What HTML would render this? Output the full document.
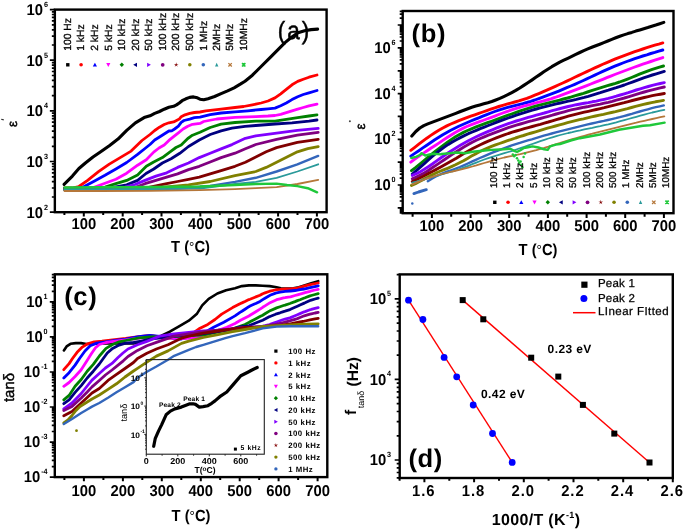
<!DOCTYPE html>
<html><head><meta charset="utf-8"><style>
html,body{margin:0;padding:0;background:#fff;width:685px;height:529px;overflow:hidden}
svg{display:block;will-change:transform}
text{font-family:"Liberation Sans", sans-serif;fill:#000;text-rendering:geometricPrecision}
</style></head><body>
<svg width="685" height="529" viewBox="0 0 685 529">
<polyline points="64.1,184.3 72.4,176.1 78.9,168.5 85.4,163.0 93.0,157.0 100.7,151.7 109.3,145.7 118.0,139.1 126.7,130.4 135.4,122.8 144.1,117.6 150.0,115.8 154.7,113.4 159.5,111.5 164.2,109.2 168.9,107.3 173.6,106.3 176.5,104.9 179.3,103.0 182.1,100.7 185.9,98.8 189.7,97.4 193.5,96.9 197.3,97.8 200.0,99.2 203.7,99.8 208.0,98.7 214.6,96.5 221.1,93.7 227.6,90.9 234.1,87.8 240.7,83.9 245.0,81.2 252.4,75.2 261.1,66.5 269.8,57.8 278.5,49.1 285.0,42.6 291.5,37.2 298.0,32.8 304.6,30.7 311.1,29.6 317.6,29.1" fill="none" stroke="#000000" stroke-width="3.1" stroke-linejoin="round" stroke-linecap="round"/>
<polyline points="64.5,188.0 72.0,188.0 78.9,186.5 87.6,180.4 98.5,171.7 109.3,164.1 120.2,157.6 131.1,151.1 142.0,140.5 146.0,137.5 150.0,134.5 154.7,130.5 159.5,127.2 164.2,124.5 168.9,122.8 173.6,121.9 176.5,120.5 179.3,119.1 181.2,116.7 185.0,114.8 189.7,113.4 194.4,112.5 200.0,112.0 205.9,110.9 221.1,109.1 235.0,107.5 243.7,106.5 252.4,104.8 261.1,103.0 268.0,101.0 275.0,97.9 280.7,93.9 286.3,89.4 292.0,84.8 297.7,81.4 303.3,79.2 309.0,77.2 317.0,75.0" fill="none" stroke="#ff0000" stroke-width="2.8" stroke-linejoin="round" stroke-linecap="round"/>
<polyline points="64.5,188.5 76.0,188.5 83.3,187.0 94.1,181.2 105.0,175.3 115.9,169.0 126.7,162.5 137.6,154.4 145.0,148.5 150.0,144.5 154.7,140.0 159.5,137.0 164.2,134.0 168.9,131.0 171.7,130.9 174.6,129.0 178.4,126.2 181.2,122.4 184.0,120.5 189.7,119.1 194.4,117.7 200.0,117.2 210.2,114.6 221.1,113.0 235.0,111.9 248.0,110.8 261.1,109.5 268.0,108.8 275.0,108.1 280.7,105.8 286.3,103.0 292.0,99.6 297.7,96.7 303.3,94.5 309.0,92.8 317.0,90.5" fill="none" stroke="#0000ff" stroke-width="2.8" stroke-linejoin="round" stroke-linecap="round"/>
<polyline points="64.5,188.5 86.0,188.5 94.1,187.4 105.0,183.2 115.9,179.3 126.7,173.2 137.6,165.2 146.3,159.8 153.7,152.1 159.0,148.0 164.2,145.0 168.9,140.4 173.6,136.6 178.4,132.8 183.1,129.0 187.8,126.2 192.5,124.3 200.0,123.4 203.7,121.5 216.7,119.0 235.0,117.4 255.8,116.6 268.0,116.0 275.0,115.5 280.7,114.3 286.3,112.6 292.0,110.9 297.7,109.2 303.3,107.5 309.0,105.8 317.0,104.1" fill="none" stroke="#ff00ff" stroke-width="2.8" stroke-linejoin="round" stroke-linecap="round"/>
<polyline points="64.5,188.5 98.0,188.5 105.0,187.0 115.9,183.7 126.7,180.4 137.6,175.0 146.3,166.3 153.7,162.0 162.4,157.6 171.1,151.1 176.0,147.5 181.2,145.0 187.8,138.5 192.5,135.2 200.0,132.3 210.2,127.5 221.1,124.2 235.0,122.5 255.8,121.2 275.0,121.1 286.3,119.4 297.7,117.7 309.0,116.0 317.0,114.9" fill="none" stroke="#008000" stroke-width="2.8" stroke-linejoin="round" stroke-linecap="round"/>
<polyline points="64.5,188.5 108.0,188.5 115.9,187.0 126.7,184.8 137.6,180.4 146.0,173.5 153.8,169.0 162.4,163.0 171.1,158.7 179.8,153.3 188.5,146.5 199.3,140.0 210.2,134.5 221.1,130.8 232.0,128.2 245.0,126.3 255.8,125.5 275.0,124.0 292.0,122.8 309.0,121.1 317.0,120.0" fill="none" stroke="#000080" stroke-width="2.8" stroke-linejoin="round" stroke-linecap="round"/>
<polyline points="64.5,189.0 115.0,189.0 125.0,187.0 135.0,184.5 145.0,180.4 155.9,176.1 166.7,172.8 177.6,167.4 188.5,163.0 199.3,157.6 210.2,153.3 221.1,148.9 232.0,144.6 245.4,138.3 255.8,135.8 276.6,133.1 297.4,130.4 318.2,128.3" fill="none" stroke="#8000ff" stroke-width="2.8" stroke-linejoin="round" stroke-linecap="round"/>
<polyline points="64.5,189.0 125.0,189.0 135.0,187.5 145.0,183.7 155.9,180.4 166.7,177.2 177.6,173.9 188.5,169.6 199.3,166.3 210.2,162.0 221.1,157.6 235.0,153.2 245.4,148.7 255.8,144.5 276.6,139.3 297.4,135.1 318.2,132.4" fill="none" stroke="#800080" stroke-width="2.8" stroke-linejoin="round" stroke-linecap="round"/>
<polyline points="64.5,189.5 135.0,189.5 145.0,188.0 155.9,185.9 166.7,183.7 177.6,181.5 188.5,179.3 199.3,177.2 210.2,173.9 221.1,170.7 235.0,166.3 245.4,162.2 255.8,157.0 266.2,151.8 276.6,147.6 297.4,142.4 318.2,139.3" fill="none" stroke="#800000" stroke-width="2.8" stroke-linejoin="round" stroke-linecap="round"/>
<polyline points="64.5,189.5 150.0,188.5 166.7,187.0 188.5,184.8 210.2,181.5 235.0,175.7 255.8,171.5 266.2,167.4 276.6,162.2 287.0,157.0 297.4,151.8 307.8,148.7 318.2,146.6" fill="none" stroke="#808000" stroke-width="2.8" stroke-linejoin="round" stroke-linecap="round"/>
<polyline points="64.5,189.5 180.0,188.5 210.2,185.9 235.0,181.9 255.8,177.8 276.6,171.5 297.4,164.3 318.2,155.9" fill="none" stroke="#3366bb" stroke-width="2.4" stroke-linejoin="round" stroke-linecap="round"/>
<polyline points="64.5,190.0 200.0,188.5 235.0,184.0 255.8,181.9 276.6,177.8 297.4,171.5 318.2,164.3" fill="none" stroke="#2a9a9a" stroke-width="1.8" stroke-linejoin="round" stroke-linecap="round"/>
<polyline points="64.5,191.0 100.0,191.0 150.0,190.8 200.0,190.2 235.0,189.2 255.8,188.2 276.6,187.1 297.4,184.0 318.2,179.8" fill="none" stroke="#b5773a" stroke-width="1.8" stroke-linejoin="round" stroke-linecap="round"/>
<polyline points="64.5,187.5 100.0,187.3 150.0,187.0 200.0,186.5 235.0,185.0 255.8,184.0 276.6,183.6 287.0,185.0 297.4,186.1 307.8,188.2 317.1,192.3" fill="none" stroke="#1fc83a" stroke-width="2.4" stroke-linejoin="round" stroke-linecap="round"/>
<text transform="translate(71.00,50.80) rotate(-90)" font-size="10.35" stroke="#000" stroke-width="0.3">100 Hz</text>
<rect x="66.10" y="63.10" width="3.4" height="3.4" fill="#000000"/>
<text transform="translate(84.30,50.80) rotate(-90)" font-size="10.35" stroke="#000" stroke-width="0.3">1 kHz</text>
<circle cx="81.10" cy="64.80" r="1.78" fill="#ff0000"/>
<text transform="translate(98.10,50.80) rotate(-90)" font-size="10.35" stroke="#000" stroke-width="0.3">2 kHz</text>
<path d="M94.90,62.70L97.00,66.50L92.80,66.50Z" fill="#0000ff"/>
<text transform="translate(111.50,50.80) rotate(-90)" font-size="10.35" stroke="#000" stroke-width="0.3">5 kHz</text>
<path d="M108.30,66.90L110.40,63.10L106.20,63.10Z" fill="#ff00ff"/>
<text transform="translate(125.00,50.80) rotate(-90)" font-size="10.35" stroke="#000" stroke-width="0.3">10 kHz</text>
<path d="M121.80,62.60L124.00,64.80L121.80,67.00L119.60,64.80Z" fill="#008000"/>
<text transform="translate(138.50,50.80) rotate(-90)" font-size="10.35" stroke="#000" stroke-width="0.3">20 kHz</text>
<path d="M133.20,64.80L137.00,62.70L137.00,66.90Z" fill="#000080"/>
<text transform="translate(152.00,50.80) rotate(-90)" font-size="10.35" stroke="#000" stroke-width="0.3">50 kHz</text>
<path d="M150.90,64.80L147.10,62.70L147.10,66.90Z" fill="#8000ff"/>
<text transform="translate(165.90,50.80) rotate(-90)" font-size="10.35" stroke="#000" stroke-width="0.3">100 kHz</text>
<circle cx="162.70" cy="64.80" r="1.87" fill="#800080"/>
<text transform="translate(179.40,50.80) rotate(-90)" font-size="10.35" stroke="#000" stroke-width="0.3">200 kHz</text>
<polygon points="176.20,62.30 176.65,64.18 178.58,64.03 176.93,65.04 177.67,66.82 176.20,65.56 174.73,66.82 175.47,65.04 173.82,64.03 175.75,64.18" fill="#800000"/>
<text transform="translate(193.00,50.80) rotate(-90)" font-size="10.35" stroke="#000" stroke-width="0.3">500 kHz</text>
<circle cx="189.80" cy="64.80" r="1.78" fill="#808000"/>
<text transform="translate(206.50,50.80) rotate(-90)" font-size="10.35" stroke="#000" stroke-width="0.3">1 MHz</text>
<circle cx="203.30" cy="64.80" r="1.78" fill="#3366bb"/>
<text transform="translate(219.90,50.80) rotate(-90)" font-size="10.35" stroke="#000" stroke-width="0.3">2MHz</text>
<path d="M216.70,62.80L218.40,66.50L215.00,66.50Z" fill="#2a9a9a"/>
<text transform="translate(233.30,50.80) rotate(-90)" font-size="10.35" stroke="#000" stroke-width="0.3">5MHz</text>
<path d="M228.40,63.10L231.80,66.50M231.80,63.10L228.40,66.50" stroke="#b5773a" stroke-width="1.3"/>
<text transform="translate(246.90,50.80) rotate(-90)" font-size="10.35" stroke="#000" stroke-width="0.3">10MHz</text>
<path d="M242.00,63.10L245.40,66.50M245.40,63.10L242.00,66.50M243.70,63.10V66.50" stroke="#1fc83a" stroke-width="1.5"/>
<polyline points="411.8,136.1 415.8,131.5 419.8,128.0 423.8,125.6 427.8,123.9 431.8,122.4 435.8,120.9 439.8,119.4 443.8,117.9 447.8,116.4 451.8,114.9 455.8,113.4 459.8,111.8 463.8,110.2 467.8,108.7 471.8,107.3 475.8,106.1 479.8,104.9 483.8,103.8 487.8,102.7 491.8,101.5 495.8,100.0 499.8,98.4 503.8,96.6 507.8,94.7 511.8,92.6 515.8,90.4 519.8,88.0 523.8,85.4 527.8,82.8 531.8,80.1 535.8,77.3 539.8,74.6 543.8,71.8 547.8,69.2 551.8,66.7 555.8,64.4 559.8,62.2 563.8,60.2 567.8,58.3 571.8,56.4 575.8,54.4 579.8,52.5 583.8,50.6 587.8,48.9 591.8,47.3 595.8,45.7 599.8,44.2 603.8,42.6 607.8,41.0 611.8,39.4 615.8,37.8 619.8,36.3 623.8,34.9 627.8,33.6 631.8,32.4 635.8,31.1 639.8,29.9 643.8,28.7 647.8,27.5 651.8,26.2 655.8,25.0 659.8,23.7 663.8,22.4 663.8,22.4" fill="none" stroke="#000000" stroke-width="3.1" stroke-linejoin="round" stroke-linecap="round"/>
<polyline points="410.8,150.3 414.8,147.3 418.8,144.2 422.8,141.2 426.8,138.2 430.8,135.4 434.8,132.8 438.8,130.3 442.8,128.0 446.8,125.9 450.8,124.0 454.8,122.3 458.8,120.6 462.8,119.1 466.8,117.6 470.8,116.2 474.8,114.8 478.8,113.4 482.8,112.0 486.8,110.6 490.8,109.2 494.8,107.8 498.8,106.5 502.8,105.3 506.8,104.2 510.8,103.1 514.8,102.0 518.8,100.9 522.8,99.6 526.8,98.3 530.8,96.8 534.8,95.2 538.8,93.6 542.8,91.9 546.8,90.1 550.8,88.4 554.8,86.6 558.8,84.8 562.8,83.0 566.8,81.1 570.8,79.2 574.8,77.3 578.8,75.4 582.8,73.5 586.8,71.6 590.8,69.7 594.8,67.9 598.8,66.1 602.8,64.3 606.8,62.6 610.8,60.9 614.8,59.2 618.8,57.6 622.8,56.1 626.8,54.6 630.8,53.1 634.8,51.7 638.8,50.3 642.8,49.0 646.8,47.7 650.8,46.4 654.8,45.2 658.8,44.1 662.8,42.9 662.8,42.9" fill="none" stroke="#ff0000" stroke-width="2.9" stroke-linejoin="round" stroke-linecap="round"/>
<polyline points="410.8,156.1 414.8,153.4 418.8,150.7 422.8,147.9 426.8,145.2 430.8,142.5 434.8,139.8 438.8,137.3 442.8,134.8 446.8,132.5 450.8,130.3 454.8,128.3 458.8,126.3 462.8,124.5 466.8,122.7 470.8,121.0 474.8,119.4 478.8,117.8 482.8,116.2 486.8,114.6 490.8,113.0 494.8,111.5 498.8,110.1 502.8,108.8 506.8,107.6 510.8,106.6 514.8,105.6 518.8,104.6 522.8,103.6 526.8,102.5 530.8,101.3 534.8,100.0 538.8,98.6 542.8,97.2 546.8,95.7 550.8,94.2 554.8,92.7 558.8,91.1 562.8,89.4 566.8,87.7 570.8,86.0 574.8,84.3 578.8,82.5 582.8,80.7 586.8,78.9 590.8,77.0 594.8,75.1 598.8,73.3 602.8,71.4 606.8,69.6 610.8,67.9 614.8,66.2 618.8,64.6 622.8,63.0 626.8,61.5 630.8,60.1 634.8,58.7 638.8,57.3 642.8,56.0 646.8,54.8 650.8,53.5 654.8,52.4 658.8,51.2 662.8,50.0 662.8,50.0" fill="none" stroke="#0000ff" stroke-width="2.9" stroke-linejoin="round" stroke-linecap="round"/>
<polyline points="410.8,162.1 414.8,159.2 418.8,156.4 422.8,153.6 426.8,151.0 430.8,148.3 434.8,145.7 438.8,143.1 442.8,140.4 446.8,137.8 450.8,135.2 454.8,132.7 458.8,130.5 462.8,128.4 466.8,126.5 470.8,124.9 474.8,123.4 478.8,121.9 482.8,120.5 486.8,119.0 490.8,117.6 494.8,116.1 498.8,114.5 502.8,113.0 506.8,111.6 510.8,110.2 514.8,108.9 518.8,107.6 522.8,106.4 526.8,105.3 530.8,104.3 534.8,103.2 538.8,102.2 542.8,101.1 546.8,100.0 550.8,98.8 554.8,97.5 558.8,96.1 562.8,94.7 566.8,93.2 570.8,91.7 574.8,90.2 578.8,88.7 582.8,87.1 586.8,85.6 590.8,84.0 594.8,82.4 598.8,80.8 602.8,79.3 606.8,77.7 610.8,76.1 614.8,74.5 618.8,73.0 622.8,71.5 626.8,70.0 630.8,68.5 634.8,67.0 638.8,65.6 642.8,64.2 646.8,62.8 650.8,61.5 654.8,60.2 658.8,58.9 662.8,57.6 662.8,57.6" fill="none" stroke="#ff00ff" stroke-width="2.9" stroke-linejoin="round" stroke-linecap="round"/>
<polyline points="411.5,170.7 415.5,167.6 419.5,164.3 423.5,161.0 427.5,157.7 431.5,154.5 435.5,151.2 439.5,148.1 443.5,145.1 447.5,142.2 451.5,139.4 455.5,136.8 459.5,134.5 463.5,132.4 467.5,130.5 471.5,128.8 475.5,127.2 479.5,125.7 483.5,124.2 487.5,122.7 491.5,121.3 495.5,119.8 499.5,118.3 503.5,116.8 507.5,115.4 511.5,114.0 515.5,112.6 519.5,111.2 523.5,109.9 527.5,108.6 531.5,107.4 535.5,106.2 539.5,105.1 543.5,104.1 547.5,103.1 551.5,102.1 555.5,101.1 559.5,100.1 563.5,99.0 567.5,98.0 571.5,96.9 575.5,95.7 579.5,94.5 583.5,93.3 587.5,92.0 591.5,90.7 595.5,89.4 599.5,88.1 603.5,86.9 607.5,85.7 611.5,84.5 615.5,83.3 619.5,82.0 623.5,80.6 627.5,79.1 631.5,77.5 635.5,75.9 639.5,74.2 643.5,72.6 647.5,71.1 651.5,69.7 655.5,68.4 659.5,67.1 663.5,66.0 663.5,66.0" fill="none" stroke="#008000" stroke-width="2.9" stroke-linejoin="round" stroke-linecap="round"/>
<polyline points="412.3,174.0 416.3,170.6 420.3,167.1 424.3,163.6 428.3,160.0 432.3,156.5 436.3,153.2 440.3,150.0 444.3,147.1 448.3,144.4 452.3,142.0 456.3,139.7 460.3,137.6 464.3,135.6 468.3,133.7 472.3,132.0 476.3,130.3 480.3,128.6 484.3,127.1 488.3,125.5 492.3,124.0 496.3,122.4 500.3,120.9 504.3,119.4 508.3,118.0 512.3,116.6 516.3,115.2 520.3,113.8 524.3,112.6 528.3,111.3 532.3,110.1 536.3,109.0 540.3,107.9 544.3,106.9 548.3,105.8 552.3,104.9 556.3,103.9 560.3,103.0 564.3,102.1 568.3,101.2 572.3,100.3 576.3,99.4 580.3,98.4 584.3,97.4 588.3,96.3 592.3,95.1 596.3,93.9 600.3,92.7 604.3,91.4 608.3,90.2 612.3,88.9 616.3,87.7 620.3,86.3 624.3,85.0 628.3,83.5 632.3,82.1 636.3,80.6 640.3,79.1 644.3,77.7 648.3,76.3 652.3,75.0 656.3,73.8 660.3,72.6 664.3,71.4 664.3,71.4" fill="none" stroke="#000080" stroke-width="2.9" stroke-linejoin="round" stroke-linecap="round"/>
<polyline points="412.3,175.4 416.3,173.7 420.3,171.7 424.3,169.3 428.3,166.7 432.3,164.0 436.3,161.1 440.3,158.3 444.3,155.5 448.3,152.8 452.3,150.2 456.3,147.7 460.3,145.3 464.3,142.9 468.3,140.7 472.3,138.7 476.3,136.7 480.3,134.9 484.3,133.1 488.3,131.4 492.3,129.8 496.3,128.2 500.3,126.6 504.3,125.1 508.3,123.7 512.3,122.3 516.3,121.0 520.3,119.8 524.3,118.6 528.3,117.4 532.3,116.3 536.3,115.2 540.3,114.1 544.3,113.0 548.3,111.8 552.3,110.7 556.3,109.6 560.3,108.5 564.3,107.5 568.3,106.5 572.3,105.6 576.3,104.7 580.3,104.0 584.3,103.3 588.3,102.6 592.3,101.8 596.3,101.1 600.3,100.2 604.3,99.3 608.3,98.4 612.3,97.3 616.3,96.2 620.3,95.0 624.3,93.8 628.3,92.6 632.3,91.3 636.3,90.0 640.3,88.8 644.3,87.6 648.3,86.5 652.3,85.4 656.3,84.4 660.3,83.5 664.3,82.6 664.3,82.6" fill="none" stroke="#8000ff" stroke-width="2.9" stroke-linejoin="round" stroke-linecap="round"/>
<polyline points="412.3,178.8 416.3,177.1 420.3,175.1 424.3,172.9 428.3,170.4 432.3,167.8 436.3,165.1 440.3,162.4 444.3,159.7 448.3,157.0 452.3,154.4 456.3,151.8 460.3,149.2 464.3,146.7 468.3,144.4 472.3,142.3 476.3,140.3 480.3,138.5 484.3,136.8 488.3,135.2 492.3,133.6 496.3,132.1 500.3,130.6 504.3,129.1 508.3,127.7 512.3,126.4 516.3,125.2 520.3,124.0 524.3,122.8 528.3,121.7 532.3,120.7 536.3,119.6 540.3,118.5 544.3,117.4 548.3,116.3 552.3,115.2 556.3,114.0 560.3,112.9 564.3,111.8 568.3,110.7 572.3,109.7 576.3,108.8 580.3,108.0 584.3,107.2 588.3,106.5 592.3,105.7 596.3,104.9 600.3,104.1 604.3,103.2 608.3,102.3 612.3,101.3 616.3,100.2 620.3,99.1 624.3,98.0 628.3,96.8 632.3,95.6 636.3,94.4 640.3,93.2 644.3,92.0 648.3,90.9 652.3,89.9 656.3,88.9 660.3,87.9 664.3,87.0 664.3,87.0" fill="none" stroke="#800080" stroke-width="2.9" stroke-linejoin="round" stroke-linecap="round"/>
<polyline points="412.3,181.5 416.3,179.7 420.3,177.8 424.3,175.7 428.3,173.6 432.3,171.5 436.3,169.4 440.3,167.2 444.3,165.0 448.3,162.8 452.3,160.5 456.3,158.2 460.3,155.7 464.3,153.3 468.3,151.0 472.3,148.8 476.3,146.7 480.3,144.7 484.3,142.9 488.3,141.2 492.3,139.5 496.3,137.9 500.3,136.4 504.3,134.9 508.3,133.5 512.3,132.2 516.3,131.0 520.3,129.8 524.3,128.7 528.3,127.6 532.3,126.5 536.3,125.4 540.3,124.3 544.3,123.1 548.3,122.0 552.3,120.8 556.3,119.6 560.3,118.5 564.3,117.3 568.3,116.2 572.3,115.1 576.3,114.1 580.3,113.1 584.3,112.2 588.3,111.3 592.3,110.4 596.3,109.5 600.3,108.6 604.3,107.7 608.3,106.7 612.3,105.7 616.3,104.7 620.3,103.7 624.3,102.7 628.3,101.6 632.3,100.5 636.3,99.5 640.3,98.5 644.3,97.5 648.3,96.6 652.3,95.7 656.3,94.9 660.3,94.2 664.3,93.5 664.3,93.5" fill="none" stroke="#800000" stroke-width="2.9" stroke-linejoin="round" stroke-linecap="round"/>
<polyline points="411.5,185.4 415.5,183.6 419.5,181.5 423.5,179.4 427.5,177.2 431.5,175.1 435.5,173.2 439.5,171.5 443.5,169.9 447.5,168.3 451.5,166.6 455.5,164.8 459.5,162.8 463.5,160.7 467.5,158.4 471.5,156.1 475.5,153.9 479.5,151.8 483.5,149.9 487.5,148.1 491.5,146.4 495.5,144.9 499.5,143.5 503.5,142.1 507.5,140.7 511.5,139.4 515.5,138.0 519.5,136.7 523.5,135.5 527.5,134.2 531.5,133.0 535.5,131.8 539.5,130.6 543.5,129.4 547.5,128.2 551.5,127.1 555.5,126.0 559.5,124.9 563.5,123.8 567.5,122.7 571.5,121.7 575.5,120.7 579.5,119.7 583.5,118.8 587.5,117.8 591.5,116.9 595.5,116.0 599.5,115.1 603.5,114.3 607.5,113.4 611.5,112.5 615.5,111.6 619.5,110.6 623.5,109.6 627.5,108.6 631.5,107.5 635.5,106.4 639.5,105.4 643.5,104.4 647.5,103.5 651.5,102.6 655.5,101.8 659.5,101.1 663.5,100.4 663.5,100.4" fill="none" stroke="#808000" stroke-width="2.9" stroke-linejoin="round" stroke-linecap="round"/>
<polyline points="427.8,181.2 431.8,178.7 435.8,176.5 439.8,174.6 443.8,172.9 447.8,171.5 451.8,170.0 455.8,168.5 459.8,167.0 463.8,165.3 467.8,163.5 471.8,161.6 475.8,159.8 479.8,158.0 483.8,156.3 487.8,154.6 491.8,152.9 495.8,151.3 499.8,149.8 503.8,148.3 507.8,146.8 511.8,145.4 515.8,144.1 519.8,142.9 523.8,141.6 527.8,140.4 531.8,139.3 535.8,138.1 539.8,136.9 543.8,135.7 547.8,134.6 551.8,133.5 555.8,132.4 559.8,131.3 563.8,130.3 567.8,129.3 571.8,128.3 575.8,127.3 579.8,126.3 583.8,125.3 587.8,124.4 591.8,123.5 595.8,122.6 599.8,121.7 603.8,120.9 607.8,120.0 611.8,119.1 615.8,118.2 619.8,117.2 623.8,116.1 627.8,115.0 631.8,113.9 635.8,112.7 639.8,111.5 643.8,110.4 647.8,109.3 651.8,108.2 655.8,107.2 659.8,106.3 663.8,105.4 663.8,105.4" fill="none" stroke="#3366bb" stroke-width="2.4" stroke-linejoin="round" stroke-linecap="round"/>
<polyline points="412.3,182.6 416.3,181.6 420.3,180.5 424.3,179.4 428.3,178.2 432.3,177.0 436.3,175.9 440.3,174.7 444.3,173.6 448.3,172.5 452.3,171.4 456.3,170.2 460.3,168.8 464.3,167.4 468.3,165.8 472.3,164.2 476.3,162.6 480.3,161.0 484.3,159.5 488.3,158.1 492.3,156.8 496.3,155.6 500.3,154.4 504.3,153.2 508.3,152.0 512.3,150.8 516.3,149.5 520.3,148.2 524.3,146.8 528.3,145.4 532.3,144.0 536.3,142.6 540.3,141.2 544.3,139.8 548.3,138.5 552.3,137.3 556.3,136.1 560.3,135.0 564.3,134.0 568.3,133.0 572.3,132.1 576.3,131.1 580.3,130.3 584.3,129.4 588.3,128.6 592.3,127.8 596.3,126.9 600.3,126.1 604.3,125.2 608.3,124.3 612.3,123.3 616.3,122.3 620.3,121.2 624.3,120.1 628.3,119.0 632.3,117.9 636.3,116.8 640.3,115.7 644.3,114.6 648.3,113.5 652.3,112.5 656.3,111.6 660.3,110.7 664.3,109.8 664.3,109.8" fill="none" stroke="#2a9a9a" stroke-width="1.8" stroke-linejoin="round" stroke-linecap="round"/>
<polyline points="412.3,184.4 416.3,182.7 420.3,181.0 424.3,179.5 428.3,178.1 432.3,176.8 436.3,175.6 440.3,174.5 444.3,173.5 448.3,172.5 452.3,171.5 456.3,170.6 460.3,169.6 464.3,168.6 468.3,167.6 472.3,166.5 476.3,165.4 480.3,164.2 484.3,163.0 488.3,161.8 492.3,160.6 496.3,159.5 500.3,158.5 504.3,157.5 508.3,156.6 512.3,155.8 516.3,154.9 520.3,154.1 524.3,153.1 528.3,152.1 532.3,151.1 536.3,150.1 540.3,149.0 544.3,147.9 548.3,146.7 552.3,145.4 556.3,144.1 560.3,142.9 564.3,141.6 568.3,140.3 572.3,139.1 576.3,138.0 580.3,136.9 584.3,135.8 588.3,134.7 592.3,133.7 596.3,132.6 600.3,131.6 604.3,130.6 608.3,129.6 612.3,128.6 616.3,127.6 620.3,126.6 624.3,125.6 628.3,124.6 632.3,123.6 636.3,122.7 640.3,121.7 644.3,120.8 648.3,119.9 652.3,119.0 656.3,118.1 660.3,117.2 664.3,116.3 664.3,116.3" fill="none" stroke="#b5773a" stroke-width="1.8" stroke-linejoin="round" stroke-linecap="round"/>
<polyline points="411.3,158.0 416.1,156.8 419.8,155.0 421.6,153.2 425.2,155.6 429.5,154.4 434.3,153.8 440.4,154.4 441.8,154.0 449.5,153.3 457.3,152.5 465.0,153.3 472.8,151.7 480.0,151.0 491.7,149.9 503.4,149.3 510.4,148.7 514.0,150.8 517.0,151.8 520.0,150.5 523.5,148.2 526.7,147.5 532.6,146.4 538.4,147.5 544.2,149.3 547.7,149.9 550.1,146.4 555.9,144.6 560.0,144.0 570.7,140.5 579.8,138.2 600.0,134.5 620.0,129.5 620.4,129.5 643.0,125.8 650.0,125.2 664.6,122.6" fill="none" stroke="#1fc83a" stroke-width="2.4" stroke-linejoin="round" stroke-linecap="round"/>
<polyline points="413.9,193.6 418.5,192.0 426.3,189.7" fill="none" stroke="#3366bb" stroke-width="2.9" stroke-linejoin="round" stroke-linecap="round"/>
<circle cx="412.30" cy="203.60" r="1.26" fill="#3366bb"/>
<circle cx="512.8" cy="154.6" r="1.25" fill="#1fc83a"/>
<circle cx="514.2" cy="156.2" r="1.25" fill="#1fc83a"/>
<circle cx="515.6" cy="155.0" r="1.25" fill="#1fc83a"/>
<circle cx="517.0" cy="158.2" r="1.25" fill="#1fc83a"/>
<circle cx="518.3" cy="160.5" r="1.25" fill="#1fc83a"/>
<circle cx="519.2" cy="162.8" r="1.25" fill="#1fc83a"/>
<circle cx="520.6" cy="161.5" r="1.25" fill="#1fc83a"/>
<circle cx="521.5" cy="164.8" r="1.25" fill="#1fc83a"/>
<circle cx="522.3" cy="167.2" r="1.25" fill="#1fc83a"/>
<circle cx="523.6" cy="157.0" r="1.25" fill="#1fc83a"/>
<circle cx="525.0" cy="153.5" r="1.25" fill="#1fc83a"/>
<text transform="translate(496.90,188.00) rotate(-90)" font-size="9.9" stroke="#000" stroke-width="0.3">100 Hz</text>
<rect x="493.10" y="200.60" width="3.4" height="3.4" fill="#000000"/>
<text transform="translate(510.15,188.00) rotate(-90)" font-size="9.9" stroke="#000" stroke-width="0.3">1 kHz</text>
<circle cx="508.05" cy="202.30" r="1.78" fill="#ff0000"/>
<text transform="translate(523.40,188.00) rotate(-90)" font-size="9.9" stroke="#000" stroke-width="0.3">2 kHz</text>
<path d="M521.30,200.20L523.40,204.00L519.20,204.00Z" fill="#0000ff"/>
<text transform="translate(536.65,188.00) rotate(-90)" font-size="9.9" stroke="#000" stroke-width="0.3">5 kHz</text>
<path d="M534.55,204.40L536.65,200.60L532.45,200.60Z" fill="#ff00ff"/>
<text transform="translate(549.90,188.00) rotate(-90)" font-size="9.9" stroke="#000" stroke-width="0.3">10 kHz</text>
<path d="M547.80,200.10L550.00,202.30L547.80,204.50L545.60,202.30Z" fill="#008000"/>
<text transform="translate(563.15,188.00) rotate(-90)" font-size="9.9" stroke="#000" stroke-width="0.3">20 kHz</text>
<path d="M558.95,202.30L562.75,200.20L562.75,204.40Z" fill="#000080"/>
<text transform="translate(576.40,188.00) rotate(-90)" font-size="9.9" stroke="#000" stroke-width="0.3">50 kHz</text>
<path d="M576.40,202.30L572.60,200.20L572.60,204.40Z" fill="#8000ff"/>
<text transform="translate(589.65,188.00) rotate(-90)" font-size="9.9" stroke="#000" stroke-width="0.3">100 kHz</text>
<circle cx="587.55" cy="202.30" r="1.87" fill="#800080"/>
<text transform="translate(602.90,188.00) rotate(-90)" font-size="9.9" stroke="#000" stroke-width="0.3">200 kHz</text>
<polygon points="600.80,199.80 601.25,201.68 603.18,201.53 601.53,202.54 602.27,204.32 600.80,203.06 599.33,204.32 600.07,202.54 598.42,201.53 600.35,201.68" fill="#800000"/>
<text transform="translate(616.15,188.00) rotate(-90)" font-size="9.9" stroke="#000" stroke-width="0.3">500 kHz</text>
<circle cx="614.05" cy="202.30" r="1.78" fill="#808000"/>
<text transform="translate(629.40,188.00) rotate(-90)" font-size="9.9" stroke="#000" stroke-width="0.3">1 MHz</text>
<circle cx="627.30" cy="202.30" r="1.78" fill="#3366bb"/>
<text transform="translate(642.65,188.00) rotate(-90)" font-size="9.9" stroke="#000" stroke-width="0.3">2MHz</text>
<path d="M640.55,200.30L642.25,204.00L638.85,204.00Z" fill="#2a9a9a"/>
<text transform="translate(655.90,188.00) rotate(-90)" font-size="9.9" stroke="#000" stroke-width="0.3">5MHz</text>
<path d="M652.10,200.60L655.50,204.00M655.50,200.60L652.10,204.00" stroke="#b5773a" stroke-width="1.3"/>
<text transform="translate(669.15,188.00) rotate(-90)" font-size="9.9" stroke="#000" stroke-width="0.3">10MHz</text>
<path d="M665.35,200.60L668.75,204.00M668.75,200.60L665.35,204.00M667.05,200.60V204.00" stroke="#1fc83a" stroke-width="1.5"/>
<polyline points="63.9,350.4 66.6,346.4 70.5,343.8 75.8,343.1 81.0,343.1 86.3,344.0 100.0,343.5 115.0,343.5 127.0,343.5 133.6,343.5 141.0,342.0 150.0,339.0 160.9,335.9 169.8,331.7 178.6,326.6 188.8,320.7 196.7,314.1 202.2,305.4 208.7,298.9 217.4,293.5 226.1,290.2 235.0,288.2 241.9,286.1 248.9,285.4 255.8,285.4 262.7,285.8 269.7,286.1 276.6,287.2 280.8,288.2 286.3,288.6 293.3,288.2 298.8,287.2 304.3,285.4 311.3,283.3 318.2,281.2" fill="none" stroke="#000000" stroke-width="2.6" stroke-linejoin="round" stroke-linecap="round"/>
<polyline points="63.8,369.7 69.1,363.6 72.5,358.5 77.1,352.3 82.3,347.1 87.6,343.8 94.2,341.8 102.0,341.2 112.6,339.9 125.7,338.5 138.8,336.6 150.0,335.3 165.0,338.0 178.0,338.0 188.8,336.0 199.0,328.8 207.8,324.4 215.0,319.5 221.7,314.1 232.6,307.6 240.0,303.7 241.9,302.9 245.0,301.5 248.9,299.6 250.0,299.2 255.0,297.2 255.8,296.9 260.0,295.3 262.7,293.7 265.0,292.9 269.7,291.2 270.0,291.1 275.0,290.0 276.6,289.6 280.0,289.4 283.5,289.1 285.0,289.0 290.0,288.9 290.5,288.9 295.0,288.4 297.4,288.2 300.0,287.4 304.3,286.1 305.0,285.9 310.0,284.7 311.3,284.4 318.2,283.0" fill="none" stroke="#ff0000" stroke-width="2.8" stroke-linejoin="round" stroke-linecap="round"/>
<polyline points="63.8,378.0 69.1,372.7 75.1,365.1 79.7,358.3 85.0,351.0 90.2,345.8 96.8,343.1 106.0,341.8 115.2,340.5 125.7,339.2 138.8,336.6 150.0,335.5 165.0,337.0 181.5,339.0 192.0,336.5 203.4,333.1 213.6,327.3 223.8,322.2 235.0,315.9 240.0,312.4 241.9,311.3 245.0,309.3 248.9,306.7 250.0,306.1 255.0,303.8 255.8,303.5 260.0,301.4 262.7,299.6 265.0,298.2 269.7,295.5 270.0,295.3 275.0,293.4 276.6,292.8 280.0,292.2 283.5,291.6 285.0,291.4 290.0,291.0 290.5,291.0 295.0,290.5 297.4,290.2 300.0,289.7 304.3,289.0 305.0,288.8 310.0,287.6 311.3,287.3 318.2,285.9" fill="none" stroke="#0000ff" stroke-width="2.8" stroke-linejoin="round" stroke-linecap="round"/>
<polyline points="63.8,386.3 69.1,382.5 75.1,376.5 81.2,369.7 86.8,361.0 91.5,353.5 95.5,347.8 99.4,344.5 106.0,342.5 115.2,341.2 125.7,339.9 140.0,338.0 160.0,337.0 180.0,338.5 193.2,338.2 210.7,333.1 226.8,327.3 235.0,323.5 240.0,320.5 241.9,319.6 245.0,318.0 248.9,316.0 250.0,315.3 255.0,312.2 255.8,311.7 260.0,309.1 262.7,307.3 265.0,305.9 269.7,302.9 270.0,302.7 275.0,300.4 276.6,299.7 280.0,298.8 283.5,297.9 285.0,297.7 290.0,296.9 290.5,296.8 295.0,295.5 297.4,294.8 300.0,294.1 304.3,292.9 305.0,292.7 310.0,291.3 311.3,290.9 315.0,290.0 318.2,289.3" fill="none" stroke="#ff00ff" stroke-width="2.8" stroke-linejoin="round" stroke-linecap="round"/>
<polyline points="63.8,399.9 69.1,395.4 75.1,386.3 81.2,379.5 87.2,371.2 93.3,364.4 99.4,356.0 106.0,348.4 112.6,344.5 119.1,341.8 125.7,340.5 138.8,337.9 150.0,337.0 175.0,336.5 204.3,334.8 232.6,328.8 240.0,326.2 245.0,324.5 248.9,322.4 250.0,321.8 255.0,319.2 260.0,316.5 262.7,315.2 265.0,313.8 269.7,310.9 270.0,310.7 275.0,308.6 276.6,307.9 280.0,306.7 283.5,305.5 285.0,305.1 290.0,303.5 290.5,303.3 295.0,301.6 297.4,300.6 300.0,299.7 304.3,298.0 305.0,297.8 310.0,295.9 311.3,295.5 315.0,294.5 318.2,293.7" fill="none" stroke="#008000" stroke-width="2.8" stroke-linejoin="round" stroke-linecap="round"/>
<polyline points="63.8,403.7 69.1,399.9 75.1,392.4 81.2,385.6 87.2,378.0 93.3,371.2 99.3,364.0 104.0,357.5 107.3,353.0 112.6,348.4 119.1,345.1 125.7,343.1 133.6,342.5 141.5,341.2 150.0,339.2 175.0,336.0 200.0,334.0 226.1,330.4 240.0,327.0 243.5,326.5 245.0,326.3 248.9,325.8 250.0,325.3 255.0,323.3 260.0,321.3 262.7,320.2 265.0,319.1 269.7,316.6 270.0,316.5 275.0,314.5 276.6,313.8 280.0,312.8 283.5,311.6 285.0,311.2 290.0,309.6 290.5,309.3 295.0,307.3 297.4,306.2 300.0,305.0 304.3,303.1 305.0,302.8 310.0,300.5 311.3,300.1 315.0,299.0 318.2,298.2" fill="none" stroke="#000080" stroke-width="2.8" stroke-linejoin="round" stroke-linecap="round"/>
<polyline points="63.8,409.0 72.0,403.0 81.2,393.5 87.2,386.0 92.0,380.1 99.3,373.5 105.4,368.0 112.0,363.4 118.0,357.5 123.0,353.0 128.0,349.0 137.5,344.7 146.9,341.4 159.6,336.1 174.2,333.9 188.8,332.4 203.4,331.0 218.0,330.2 232.6,328.8 240.0,327.9 245.0,327.6 250.0,327.2 255.0,326.8 260.0,326.5 262.7,326.2 265.0,325.7 269.7,324.5 270.0,324.4 275.0,322.6 276.6,322.0 280.0,320.8 283.5,319.5 285.0,319.1 290.0,317.8 290.5,317.6 295.0,315.7 297.4,314.7 300.0,313.6 304.3,311.8 305.0,311.6 310.0,309.7 311.3,309.4 315.0,308.4 318.2,307.6" fill="none" stroke="#8000ff" stroke-width="2.8" stroke-linejoin="round" stroke-linecap="round"/>
<polyline points="63.8,410.5 72.0,406.4 81.2,398.0 87.2,392.0 92.0,386.9 99.3,380.5 105.4,375.0 112.0,370.0 116.5,366.4 123.3,360.8 128.0,356.5 137.5,350.4 146.9,345.7 156.4,342.4 174.2,336.1 188.8,333.9 203.4,331.7 218.0,330.2 240.0,328.4 245.0,328.1 250.0,327.8 255.0,327.5 260.0,327.2 262.7,327.1 265.0,326.5 269.7,325.2 270.0,325.1 275.0,324.5 276.6,324.2 280.0,323.4 283.5,322.5 285.0,322.1 290.0,320.8 290.5,320.6 295.0,319.3 297.4,318.6 300.0,317.5 304.3,315.8 305.0,315.6 310.0,314.1 311.3,313.8 315.0,313.0 318.2,312.4" fill="none" stroke="#800080" stroke-width="2.8" stroke-linejoin="round" stroke-linecap="round"/>
<polyline points="63.8,415.8 72.0,411.5 81.2,403.0 87.2,397.5 92.0,393.0 99.3,388.5 108.0,380.4 116.5,374.4 125.0,368.5 133.5,362.5 137.5,358.4 146.9,353.2 156.4,349.0 168.0,344.7 181.5,338.2 188.8,336.1 203.4,333.1 218.0,331.0 232.6,328.8 245.0,327.3 262.7,327.0 276.6,325.6 280.0,325.3 285.0,324.6 290.0,323.9 290.5,323.8 295.0,322.9 300.0,322.0 304.3,321.2 305.0,321.0 310.0,319.8 315.0,318.9 318.2,318.3" fill="none" stroke="#800000" stroke-width="2.8" stroke-linejoin="round" stroke-linecap="round"/>
<polyline points="63.8,423.0 68.0,420.0 72.0,415.5 76.0,410.5 80.0,406.5 87.2,402.0 92.0,399.0 99.3,395.0 108.0,389.3 116.5,383.8 125.0,377.0 133.5,371.0 137.5,368.4 146.9,362.2 156.4,356.1 168.0,350.9 181.5,343.4 188.8,341.2 203.4,337.5 218.0,334.6 232.6,331.7 245.0,329.5 262.7,326.3 276.6,325.6 290.5,324.9 304.3,324.2 318.2,323.8" fill="none" stroke="#808000" stroke-width="2.8" stroke-linejoin="round" stroke-linecap="round"/>
<polyline points="63.8,424.1 72.0,419.1 81.2,413.0 87.2,409.5 92.0,406.6 99.3,403.0 108.0,397.8 116.5,392.3 125.0,387.2 133.5,382.1 137.5,377.8 146.9,371.7 156.4,366.5 168.0,359.8 174.2,355.8 181.5,352.8 188.8,349.9 196.1,347.0 203.4,344.8 210.7,342.6 218.0,340.4 225.3,338.2 232.6,336.1 245.0,333.1 262.7,328.4 276.6,326.6 290.5,326.3 304.3,326.3 318.2,326.3" fill="none" stroke="#3366bb" stroke-width="2.4" stroke-linejoin="round" stroke-linecap="round"/>
<circle cx="76.50" cy="430.70" r="1.37" fill="#808000"/>
<rect x="274.30" y="349.50" width="3.2" height="3.2" fill="#000000"/>
<text transform="translate(288.20,354.00)" font-size="7.8" font-weight="bold" fill="#333" letter-spacing="0.5">100 Hz</text>
<circle cx="275.90" cy="362.88" r="1.68" fill="#ff0000"/>
<text transform="translate(288.20,365.78)" font-size="7.8" font-weight="bold" fill="#333" letter-spacing="0.5">1 kHz</text>
<path d="M275.90,372.66L277.90,376.26L273.90,376.26Z" fill="#0000ff"/>
<text transform="translate(288.20,377.56)" font-size="7.8" font-weight="bold" fill="#333" letter-spacing="0.5">2 kHz</text>
<path d="M275.90,388.44L277.90,384.84L273.90,384.84Z" fill="#ff00ff"/>
<text transform="translate(288.20,389.34)" font-size="7.8" font-weight="bold" fill="#333" letter-spacing="0.5">5 kHz</text>
<path d="M275.90,396.12L278.00,398.22L275.90,400.32L273.80,398.22Z" fill="#008000"/>
<text transform="translate(288.20,401.12)" font-size="7.8" font-weight="bold" fill="#333" letter-spacing="0.5">10 kHz</text>
<path d="M273.90,410.00L277.50,408.00L277.50,412.00Z" fill="#000080"/>
<text transform="translate(288.20,412.90)" font-size="7.8" font-weight="bold" fill="#333" letter-spacing="0.5">20 kHz</text>
<path d="M277.90,421.78L274.30,419.78L274.30,423.78Z" fill="#8000ff"/>
<text transform="translate(288.20,424.68)" font-size="7.8" font-weight="bold" fill="#333" letter-spacing="0.5">50 kHz</text>
<circle cx="275.90" cy="433.56" r="1.76" fill="#800080"/>
<text transform="translate(288.20,436.46)" font-size="7.8" font-weight="bold" fill="#333" letter-spacing="0.5">100 kHz</text>
<polygon points="275.90,442.94 276.32,444.76 278.18,444.60 276.58,445.56 277.31,447.28 275.90,446.06 274.49,447.28 275.22,445.56 273.62,444.60 275.48,444.76" fill="#800000"/>
<text transform="translate(288.20,448.24)" font-size="7.8" font-weight="bold" fill="#333" letter-spacing="0.5">200 kHz</text>
<circle cx="275.90" cy="457.12" r="1.68" fill="#808000"/>
<text transform="translate(288.20,460.02)" font-size="7.8" font-weight="bold" fill="#333" letter-spacing="0.5">500 kHz</text>
<circle cx="275.90" cy="468.90" r="1.68" fill="#3366bb"/>
<text transform="translate(288.20,471.80)" font-size="7.8" font-weight="bold" fill="#333" letter-spacing="0.5">1 MHz</text>
<rect x="146.3" y="359.6" width="118" height="94.6" fill="none" stroke="#222" stroke-width="1.1"/>
<path d="M146.3,454.2v2.2M162.1,454.2v1.5M177.8,454.2v2.2M193.6,454.2v1.5M209.3,454.2v2.2M225.1,454.2v1.5M240.8,454.2v2.2M256.6,454.2v1.5M146.3,449.2h-1.2M146.3,445.7h-1.2M146.3,442.9h-1.2M146.3,440.7h-1.2M146.3,438.8h-1.2M146.3,437.1h-1.2M146.3,435.7h-1.2M146.3,434.4h-2.0M146.3,425.9h-1.2M146.3,420.9h-1.2M146.3,417.4h-1.2M146.3,414.6h-1.2M146.3,412.4h-1.2M146.3,410.5h-1.2M146.3,408.8h-1.2M146.3,407.4h-1.2M146.3,406.1h-2.0M146.3,397.6h-1.2M146.3,392.6h-1.2M146.3,389.1h-1.2M146.3,386.3h-1.2M146.3,384.1h-1.2M146.3,382.2h-1.2M146.3,380.5h-1.2M146.3,379.1h-1.2M146.3,377.8h-2.0M146.3,369.3h-1.2M146.3,364.3h-1.2M146.3,360.8h-1.2" stroke="#222" stroke-width="1" fill="none"/>
<text transform="translate(146.30,463.80) scale(1.05,1)" font-size="8.6" font-weight="bold" text-anchor="middle" fill="#222">0</text>
<text transform="translate(177.80,463.80) scale(1.05,1)" font-size="8.6" font-weight="bold" text-anchor="middle" fill="#222">200</text>
<text transform="translate(209.30,463.80) scale(1.05,1)" font-size="8.6" font-weight="bold" text-anchor="middle" fill="#222">400</text>
<text transform="translate(240.80,463.80) scale(1.05,1)" font-size="8.6" font-weight="bold" text-anchor="middle" fill="#222">600</text>
<text transform="translate(140.00,381.00) scale(1.05,1)" font-size="8.0" font-weight="bold" text-anchor="end" fill="#222">10</text>
<text transform="translate(140.40,376.20)" font-size="5.0" font-weight="bold" fill="#222">1</text>
<text transform="translate(140.00,409.30) scale(1.05,1)" font-size="8.0" font-weight="bold" text-anchor="end" fill="#222">10</text>
<text transform="translate(140.40,404.50)" font-size="5.0" font-weight="bold" fill="#222">0</text>
<text transform="translate(140.00,437.60) scale(1.05,1)" font-size="8.0" font-weight="bold" text-anchor="end" fill="#222">10</text>
<text transform="translate(140.40,432.80)" font-size="5.0" font-weight="bold" fill="#222">-1</text>
<text transform="translate(126.80,412.60) rotate(-90)" font-size="9.2" text-anchor="middle" fill="#333">tanδ</text>
<text transform="translate(205.00,472.60)" font-size="8.6" font-weight="bold" text-anchor="middle" fill="#333">T(<tspan font-size="6.5" dy="-2">o</tspan><tspan dy="2">C)</tspan></text>
<text transform="translate(159.00,406.70)" font-size="6.6" font-weight="bold" fill="#222" letter-spacing="0.15">Peak 2</text>
<text transform="translate(183.20,401.00)" font-size="6.6" font-weight="bold" fill="#222" letter-spacing="0.15">Peak 1</text>
<rect x="233.9" y="447.6" width="3" height="3" fill="#000"/>
<text transform="translate(240.60,450.40)" font-size="6.8" font-weight="bold" fill="#222" letter-spacing="0.6">5 kHz</text>
<polyline points="153.7,446.3 155.2,438.7 158.5,431.1 161.7,424.6 166.1,414.8 170.4,411.1 174.8,408.9 181.3,407.1 186.0,405.2 189.8,403.8 193.0,403.8 195.5,404.4 199.3,407.1 203.1,406.6 207.9,405.7 211.7,403.3 215.0,400.9 219.8,396.7 226.8,392.0 233.8,383.9 240.8,375.7 247.8,372.2 252.0,370.0 257.2,367.5" fill="none" stroke="#000" stroke-width="3.2" stroke-linejoin="round" stroke-linecap="round"/>
<line x1="462.7" y1="300.1" x2="649.5" y2="462.5" stroke="#ff0000" stroke-width="1.4"/>
<line x1="408.5" y1="300.2" x2="512.2" y2="462.4" stroke="#ff0000" stroke-width="1.4"/>
<rect x="459.7" y="297.1" width="6" height="6" fill="#000"/>
<rect x="480.3" y="316.3" width="6" height="6" fill="#000"/>
<rect x="528.2" y="354.7" width="6" height="6" fill="#000"/>
<rect x="555.3" y="373.6" width="6" height="6" fill="#000"/>
<rect x="579.9" y="401.9" width="6" height="6" fill="#000"/>
<rect x="611.3" y="430.6" width="6" height="6" fill="#000"/>
<rect x="646.5" y="459.5" width="6" height="6" fill="#000"/>
<circle cx="408.5" cy="300.2" r="3.4" fill="#0000ff"/>
<circle cx="422.9" cy="319.5" r="3.4" fill="#0000ff"/>
<circle cx="444.1" cy="357.4" r="3.4" fill="#0000ff"/>
<circle cx="456.7" cy="376.8" r="3.4" fill="#0000ff"/>
<circle cx="473.2" cy="405" r="3.4" fill="#0000ff"/>
<circle cx="492.5" cy="433.5" r="3.4" fill="#0000ff"/>
<circle cx="512.2" cy="462.4" r="3.4" fill="#0000ff"/>
<rect x="581.3" y="281.6" width="6.2" height="6.2" fill="#000"/>
<circle cx="583.9" cy="298.6" r="3.5" fill="#0000ff"/>
<line x1="573" y1="312.7" x2="595.5" y2="312.7" stroke="#ff0000" stroke-width="1.5"/>
<text transform="translate(598.00,287.30)" font-size="11.5" fill="#111" letter-spacing="0.2" stroke="#111" stroke-width="0.3">Peak 1</text>
<text transform="translate(598.00,301.70)" font-size="11.5" fill="#111" letter-spacing="0.2" stroke="#111" stroke-width="0.3">Peak 2</text>
<text transform="translate(598.00,315.30)" font-size="11.5" fill="#111" letter-spacing="0.45" stroke="#111" stroke-width="0.3">LInear FItted</text>
<text transform="translate(547.60,353.00)" font-size="12.0" font-weight="bold" fill="#111" letter-spacing="0.4">0.23 eV</text>
<text transform="translate(481.00,397.80)" font-size="12.0" font-weight="bold" fill="#111" letter-spacing="0.4">0.42 eV</text>
<rect x="54.85" y="9.6" width="271.75" height="202.60" fill="none" stroke="#000" stroke-width="2.4"/>
<rect x="402.7" y="11.0" width="270.80" height="202.20" fill="none" stroke="#000" stroke-width="2.4"/>
<rect x="54.8" y="274.3" width="272.50" height="202.80" fill="none" stroke="#000" stroke-width="2.4"/>
<rect x="399.7" y="274.4" width="273.10" height="203.60" fill="none" stroke="#000" stroke-width="2.4"/>
<path d="M83.8,212.2v4.2M122.7,212.2v4.2M161.5,212.2v4.2M200.3,212.2v4.2M239.2,212.2v4.2M278.1,212.2v4.2M316.9,212.2v4.2M64.4,212.2v2.8M103.2,212.2v2.8M142.1,212.2v2.8M180.9,212.2v2.8M219.8,212.2v2.8M258.6,212.2v2.8M297.5,212.2v2.8" stroke="#000" stroke-width="2" fill="none"/>
<text transform="translate(83.80,229.00) scale(0.95,1)" font-size="15.6" font-weight="bold" text-anchor="middle">100</text>
<text transform="translate(122.65,229.00) scale(0.95,1)" font-size="15.6" font-weight="bold" text-anchor="middle">200</text>
<text transform="translate(161.50,229.00) scale(0.95,1)" font-size="15.6" font-weight="bold" text-anchor="middle">300</text>
<text transform="translate(200.35,229.00) scale(0.95,1)" font-size="15.6" font-weight="bold" text-anchor="middle">400</text>
<text transform="translate(239.20,229.00) scale(0.95,1)" font-size="15.6" font-weight="bold" text-anchor="middle">500</text>
<text transform="translate(278.05,229.00) scale(0.95,1)" font-size="15.6" font-weight="bold" text-anchor="middle">600</text>
<text transform="translate(316.90,229.00) scale(0.95,1)" font-size="15.6" font-weight="bold" text-anchor="middle">700</text>
<path d="M54.85,212.2h-5.0M54.85,197.0h-3.0M54.85,188.0h-3.0M54.85,181.7h-3.0M54.85,176.8h-3.0M54.85,172.8h-3.0M54.85,169.4h-3.0M54.85,166.5h-3.0M54.85,163.9h-3.0M54.85,161.5h-5.0M54.85,146.3h-3.0M54.85,137.4h-3.0M54.85,131.1h-3.0M54.85,126.1h-3.0M54.85,122.1h-3.0M54.85,118.7h-3.0M54.85,115.8h-3.0M54.85,113.2h-3.0M54.85,110.9h-5.0M54.85,95.7h-3.0M54.85,86.7h-3.0M54.85,80.4h-3.0M54.85,75.5h-3.0M54.85,71.5h-3.0M54.85,68.1h-3.0M54.85,65.2h-3.0M54.85,62.6h-3.0M54.85,60.2h-5.0M54.85,45.0h-3.0M54.85,36.1h-3.0M54.85,29.8h-3.0M54.85,24.8h-3.0M54.85,20.8h-3.0M54.85,17.4h-3.0M54.85,14.5h-3.0M54.85,11.9h-3.0M54.85,9.6h-5.0" stroke="#000" stroke-width="1.7" fill="none"/>
<text transform="translate(47.90,217.70) scale(0.95,1)" font-size="15.6" font-weight="bold" text-anchor="end">10<tspan dx="0.9" dy="-8.10" font-size="7.6">2</tspan></text>
<text transform="translate(47.90,167.05) scale(0.95,1)" font-size="15.6" font-weight="bold" text-anchor="end">10<tspan dx="0.9" dy="-8.10" font-size="7.6">3</tspan></text>
<text transform="translate(47.90,116.40) scale(0.95,1)" font-size="15.6" font-weight="bold" text-anchor="end">10<tspan dx="0.9" dy="-8.10" font-size="7.6">4</tspan></text>
<text transform="translate(47.90,65.75) scale(0.95,1)" font-size="15.6" font-weight="bold" text-anchor="end">10<tspan dx="0.9" dy="-8.10" font-size="7.6">5</tspan></text>
<text transform="translate(47.90,15.10) scale(0.95,1)" font-size="15.6" font-weight="bold" text-anchor="end">10<tspan dx="0.9" dy="-8.10" font-size="7.6">6</tspan></text>
<path d="M431.9,213.2v4.8M470.6,213.2v4.8M509.2,213.2v4.8M547.9,213.2v4.8M586.6,213.2v4.8M625.2,213.2v4.8M663.9,213.2v4.8M412.6,213.2v3.6M451.2,213.2v3.6M489.9,213.2v3.6M528.6,213.2v3.6M567.2,213.2v3.6M605.9,213.2v3.6M644.6,213.2v3.6" stroke="#000" stroke-width="2" fill="none"/>
<text transform="translate(431.90,231.00) scale(0.95,1)" font-size="15.6" font-weight="bold" text-anchor="middle">100</text>
<text transform="translate(470.57,231.00) scale(0.95,1)" font-size="15.6" font-weight="bold" text-anchor="middle">200</text>
<text transform="translate(509.24,231.00) scale(0.95,1)" font-size="15.6" font-weight="bold" text-anchor="middle">300</text>
<text transform="translate(547.91,231.00) scale(0.95,1)" font-size="15.6" font-weight="bold" text-anchor="middle">400</text>
<text transform="translate(586.58,231.00) scale(0.95,1)" font-size="15.6" font-weight="bold" text-anchor="middle">500</text>
<text transform="translate(625.25,231.00) scale(0.95,1)" font-size="15.6" font-weight="bold" text-anchor="middle">600</text>
<text transform="translate(663.92,231.00) scale(0.95,1)" font-size="15.6" font-weight="bold" text-anchor="middle">700</text>
<path d="M402.7,212.9h-3.0M402.7,211.4h-3.0M402.7,210.1h-3.0M402.7,208.9h-3.0M402.7,207.8h-5.0M402.7,201.0h-3.0M402.7,196.9h-3.0M402.7,194.1h-3.0M402.7,191.9h-3.0M402.7,190.1h-3.0M402.7,188.5h-3.0M402.7,187.2h-3.0M402.7,186.0h-3.0M402.7,185.0h-5.0M402.7,178.1h-3.0M402.7,174.1h-3.0M402.7,171.2h-3.0M402.7,169.0h-3.0M402.7,167.2h-3.0M402.7,165.7h-3.0M402.7,164.4h-3.0M402.7,163.2h-3.0M402.7,162.2h-5.0M402.7,155.3h-3.0M402.7,151.2h-3.0M402.7,148.4h-3.0M402.7,146.2h-3.0M402.7,144.4h-3.0M402.7,142.8h-3.0M402.7,141.5h-3.0M402.7,140.3h-3.0M402.7,139.3h-5.0M402.7,132.4h-3.0M402.7,128.4h-3.0M402.7,125.5h-3.0M402.7,123.3h-3.0M402.7,121.5h-3.0M402.7,120.0h-3.0M402.7,118.7h-3.0M402.7,117.5h-3.0M402.7,116.4h-5.0M402.7,109.6h-3.0M402.7,105.5h-3.0M402.7,102.7h-3.0M402.7,100.5h-3.0M402.7,98.7h-3.0M402.7,97.1h-3.0M402.7,95.8h-3.0M402.7,94.6h-3.0M402.7,93.6h-5.0M402.7,86.7h-3.0M402.7,82.7h-3.0M402.7,79.8h-3.0M402.7,77.6h-3.0M402.7,75.8h-3.0M402.7,74.3h-3.0M402.7,73.0h-3.0M402.7,71.8h-3.0M402.7,70.8h-5.0M402.7,63.9h-3.0M402.7,59.8h-3.0M402.7,57.0h-3.0M402.7,54.8h-3.0M402.7,53.0h-3.0M402.7,51.4h-3.0M402.7,50.1h-3.0M402.7,48.9h-3.0M402.7,47.9h-5.0M402.7,41.0h-3.0M402.7,37.0h-3.0M402.7,34.1h-3.0M402.7,31.9h-3.0M402.7,30.1h-3.0M402.7,28.6h-3.0M402.7,27.3h-3.0M402.7,26.1h-3.0M402.7,25.0h-5.0M402.7,18.2h-3.0M402.7,14.1h-3.0M402.7,11.3h-3.0" stroke="#000" stroke-width="1.7" fill="none"/>
<text transform="translate(395.50,190.10) scale(0.95,1)" font-size="15.6" font-weight="bold" text-anchor="end">10<tspan dx="0.9" dy="-8.10" font-size="7.6">0</tspan></text>
<text transform="translate(395.50,144.40) scale(0.95,1)" font-size="15.6" font-weight="bold" text-anchor="end">10<tspan dx="0.9" dy="-8.10" font-size="7.6">2</tspan></text>
<text transform="translate(395.50,98.70) scale(0.95,1)" font-size="15.6" font-weight="bold" text-anchor="end">10<tspan dx="0.9" dy="-8.10" font-size="7.6">4</tspan></text>
<text transform="translate(395.50,53.00) scale(0.95,1)" font-size="15.6" font-weight="bold" text-anchor="end">10<tspan dx="0.9" dy="-8.10" font-size="7.6">6</tspan></text>
<path d="M83.9,477.1v4.2M122.9,477.1v4.2M161.8,477.1v4.2M200.8,477.1v4.2M239.7,477.1v4.2M278.6,477.1v4.2M317.6,477.1v4.2M64.4,477.1v2.8M103.4,477.1v2.8M142.3,477.1v2.8M181.3,477.1v2.8M220.2,477.1v2.8M259.2,477.1v2.8M298.1,477.1v2.8" stroke="#000" stroke-width="2" fill="none"/>
<text transform="translate(83.90,495.80) scale(0.95,1)" font-size="15.6" font-weight="bold" text-anchor="middle">100</text>
<text transform="translate(122.85,495.80) scale(0.95,1)" font-size="15.6" font-weight="bold" text-anchor="middle">200</text>
<text transform="translate(161.80,495.80) scale(0.95,1)" font-size="15.6" font-weight="bold" text-anchor="middle">300</text>
<text transform="translate(200.75,495.80) scale(0.95,1)" font-size="15.6" font-weight="bold" text-anchor="middle">400</text>
<text transform="translate(239.70,495.80) scale(0.95,1)" font-size="15.6" font-weight="bold" text-anchor="middle">500</text>
<text transform="translate(278.65,495.80) scale(0.95,1)" font-size="15.6" font-weight="bold" text-anchor="middle">600</text>
<text transform="translate(317.60,495.80) scale(0.95,1)" font-size="15.6" font-weight="bold" text-anchor="middle">700</text>
<path d="M54.8,477.1h-5.0M54.8,466.6h-3.0M54.8,460.4h-3.0M54.8,456.0h-3.0M54.8,452.6h-3.0M54.8,449.8h-3.0M54.8,447.5h-3.0M54.8,445.5h-3.0M54.8,443.7h-3.0M54.8,442.1h-5.0M54.8,431.5h-3.0M54.8,425.3h-3.0M54.8,421.0h-3.0M54.8,417.6h-3.0M54.8,414.8h-3.0M54.8,412.4h-3.0M54.8,410.4h-3.0M54.8,408.6h-3.0M54.8,407.0h-5.0M54.8,396.5h-3.0M54.8,390.3h-3.0M54.8,385.9h-3.0M54.8,382.5h-3.0M54.8,379.8h-3.0M54.8,377.4h-3.0M54.8,375.4h-3.0M54.8,373.6h-3.0M54.8,372.0h-5.0M54.8,361.4h-3.0M54.8,355.3h-3.0M54.8,350.9h-3.0M54.8,347.5h-3.0M54.8,344.7h-3.0M54.8,342.4h-3.0M54.8,340.3h-3.0M54.8,338.5h-3.0M54.8,336.9h-5.0M54.8,326.4h-3.0M54.8,320.2h-3.0M54.8,315.8h-3.0M54.8,312.4h-3.0M54.8,309.7h-3.0M54.8,307.3h-3.0M54.8,305.3h-3.0M54.8,303.5h-3.0M54.8,301.9h-5.0M54.8,291.4h-3.0M54.8,285.2h-3.0M54.8,280.8h-3.0M54.8,277.4h-3.0M54.8,274.6h-3.0" stroke="#000" stroke-width="1.7" fill="none"/>
<text transform="translate(47.60,307.00) scale(0.95,1)" font-size="15.6" font-weight="bold" text-anchor="end">10<tspan dx="0.9" dy="-8.10" font-size="7.6">1</tspan></text>
<text transform="translate(47.60,342.04) scale(0.95,1)" font-size="15.6" font-weight="bold" text-anchor="end">10<tspan dx="0.9" dy="-8.10" font-size="7.6">0</tspan></text>
<text transform="translate(47.60,377.08) scale(0.95,1)" font-size="15.6" font-weight="bold" text-anchor="end">10<tspan dx="0.9" dy="-8.10" font-size="7.6">-1</tspan></text>
<text transform="translate(47.60,412.12) scale(0.95,1)" font-size="15.6" font-weight="bold" text-anchor="end">10<tspan dx="0.9" dy="-8.10" font-size="7.6">-2</tspan></text>
<text transform="translate(47.60,447.16) scale(0.95,1)" font-size="15.6" font-weight="bold" text-anchor="end">10<tspan dx="0.9" dy="-8.10" font-size="7.6">-3</tspan></text>
<text transform="translate(47.60,482.20) scale(0.95,1)" font-size="15.6" font-weight="bold" text-anchor="end">10<tspan dx="0.9" dy="-8.10" font-size="7.6">-4</tspan></text>
<path d="M424.4,478.0v4.2M474.1,478.0v4.2M523.8,478.0v4.2M573.5,478.0v4.2M623.2,478.0v4.2M672.8,478.0v4.2M399.6,478.0v2.8M449.3,478.0v2.8M499.0,478.0v2.8M548.6,478.0v2.8M598.3,478.0v2.8M648.0,478.0v2.8" stroke="#000" stroke-width="2" fill="none"/>
<text transform="translate(423.84,495.50) scale(0.95,1)" font-size="15.6" font-weight="bold" text-anchor="middle" letter-spacing="1.0">1.6</text>
<text transform="translate(473.52,495.50) scale(0.95,1)" font-size="15.6" font-weight="bold" text-anchor="middle" letter-spacing="1.0">1.8</text>
<text transform="translate(523.20,495.50) scale(0.95,1)" font-size="15.6" font-weight="bold" text-anchor="middle" letter-spacing="1.0">2.0</text>
<text transform="translate(572.88,495.50) scale(0.95,1)" font-size="15.6" font-weight="bold" text-anchor="middle" letter-spacing="1.0">2.2</text>
<text transform="translate(622.56,495.50) scale(0.95,1)" font-size="15.6" font-weight="bold" text-anchor="middle" letter-spacing="1.0">2.4</text>
<text transform="translate(672.24,495.50) scale(0.95,1)" font-size="15.6" font-weight="bold" text-anchor="middle" letter-spacing="1.0">2.6</text>
<path d="M399.7,477.9h-3.0M399.7,472.5h-3.0M399.7,467.8h-3.0M399.7,463.7h-3.0M399.7,460.0h-5.0M399.7,435.8h-3.0M399.7,421.6h-3.0M399.7,411.5h-3.0M399.7,403.7h-3.0M399.7,397.3h-3.0M399.7,391.9h-3.0M399.7,387.3h-3.0M399.7,383.1h-3.0M399.7,379.4h-5.0M399.7,355.2h-3.0M399.7,341.0h-3.0M399.7,331.0h-3.0M399.7,323.1h-3.0M399.7,316.8h-3.0M399.7,311.4h-3.0M399.7,306.7h-3.0M399.7,302.6h-3.0M399.7,298.9h-5.0M399.7,274.7h-3.0" stroke="#000" stroke-width="1.7" fill="none"/>
<text transform="translate(391.00,465.10) scale(0.95,1)" font-size="15.6" font-weight="bold" text-anchor="end">10<tspan dx="0.9" dy="-8.10" font-size="7.6">3</tspan></text>
<text transform="translate(391.00,384.55) scale(0.95,1)" font-size="15.6" font-weight="bold" text-anchor="end">10<tspan dx="0.9" dy="-8.10" font-size="7.6">4</tspan></text>
<text transform="translate(391.00,304.00) scale(0.95,1)" font-size="15.6" font-weight="bold" text-anchor="end">10<tspan dx="0.9" dy="-8.10" font-size="7.6">5</tspan></text>
<text transform="translate(190.50,252.00) scale(0.92,1)" font-size="16" font-weight="bold" text-anchor="middle">T (<tspan font-size="14.5" font-weight="normal">°</tspan>C)</text>
<text transform="translate(538.00,255.20) scale(0.92,1)" font-size="16" font-weight="bold" text-anchor="middle">T (<tspan font-size="14.5" font-weight="normal">°</tspan>C)</text>
<text transform="translate(191.00,520.50) scale(0.92,1)" font-size="16" font-weight="bold" text-anchor="middle">T (<tspan font-size="14.5" font-weight="normal">°</tspan>C)</text>
<text transform="translate(536.00,524.80)" font-size="16" font-weight="bold" text-anchor="middle" letter-spacing="0.35">1000/T (K<tspan font-size="9" dy="-7">-1</tspan><tspan dy="7">)</tspan></text>
<text transform="translate(16.60,124.00) rotate(-90)" font-size="13.5" text-anchor="middle" stroke="#000" stroke-width="0.45">ε</text>
<path d="M1.2,119.2L3.8,119.9" stroke="#333" stroke-width="1.1"/>
<text transform="translate(364.60,126.40) rotate(-90)" font-size="13.5" text-anchor="middle" stroke="#000" stroke-width="0.45">ε</text>
<circle cx="349.9" cy="121.3" r="1.0" fill="#444"/>
<text transform="translate(14.00,387.50) rotate(-90)" font-size="15" text-anchor="middle" stroke="#000" stroke-width="0.4">tanδ</text>
<text transform="translate(356.00,412.30) rotate(-90)" font-size="15.5" font-weight="bold" text-anchor="middle">f</text>
<text transform="translate(363.50,399.50) rotate(-90)" font-size="9" text-anchor="middle">tanδ</text>
<text transform="translate(357.50,371.80) rotate(-90)" font-size="15.5" font-weight="bold" text-anchor="middle">(Hz)</text>
<text transform="translate(277.70,38.90) scale(0.9,1)" font-size="25" stroke="#000" stroke-width="0.5" letter-spacing="2.2">(a)</text>
<text transform="translate(411.60,42.40)" font-size="25.6" font-weight="bold" letter-spacing="0.6">(b)</text>
<text transform="translate(64.20,304.60)" font-size="25.6" font-weight="bold" letter-spacing="0.6">(c)</text>
<text transform="translate(408.40,466.80)" font-size="25.6" font-weight="bold" letter-spacing="0.6">(d)</text>
</svg></body></html>
